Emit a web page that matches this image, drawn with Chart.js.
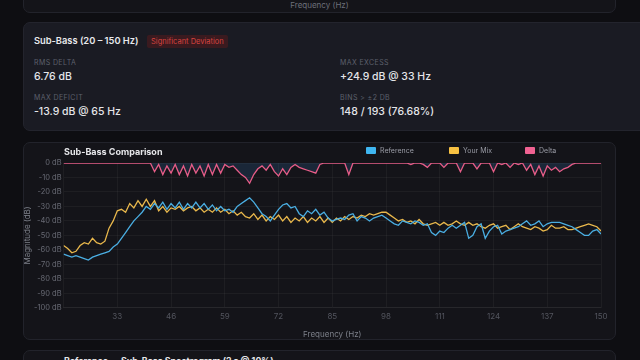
<!DOCTYPE html>
<html>
<head>
<meta charset="utf-8">
<script src="https://cdn.jsdelivr.net/npm/chart.js@4.4.1/dist/chart.umd.min.js"></script>
<style>
  html, body { margin: 0; padding: 0; }
  body {
    width: 640px; height: 360px; overflow: hidden; position: relative;
    background: #0e0e12; font-family: Inter, "Noto Sans", sans-serif; color: #e5e6ea;
  }
  .card { position: absolute; box-sizing: border-box; border: 1px solid #22232b; border-radius: 7px; }
  #topCard { left: 23px; top: -30px; width: 593px; height: 43px; background: #141419; }
  #topCard span { position: absolute; left: 0; right: 0; bottom: 2px; text-align: center; font-size: 8px; color: #6d707a; }
  #stats { left: 23px; top: 22px; width: 640px; height: 109px; background: #1a1b23; border-color: #23242d; }
  #stats h3 { position: absolute; left: 10px; top: 12px; margin: 0; font-size: 9.3px; font-weight: 600; color: #e8e9ec; }
  .badge { position: absolute; left: 123px; top: 12px; height: 13px; line-height: 13px; padding: 0 4px;
    font-size: 7.5px; color: #d8443f; background: #3a1a1f; border-radius: 2px; }
  .lbl { position: absolute; font-size: 7px; letter-spacing: 0.4px; color: #5d606c; text-transform: uppercase; }
  .val { position: absolute; font-size: 10.5px; font-weight: 500; color: #e4e5e9; }
  #chartCard { left: 23px; top: 142px; width: 593px; height: 198px; background: #141419; }
  #wrap { position: absolute; left: 0; top: 0; width: 591px; height: 196px; }
  #chartTitle { position: absolute; left: 40px; top: 3px; font-size: 9px; font-weight: 700; color: #e6e7ea; }
  #legend { position: absolute; left: 342px; top: 3px; font-size: 7px; color: #9a9ca6; white-space: nowrap; }
  #legend .item { position: absolute; top: 0; }
  #legend i { display: inline-block; width: 10px; height: 7px; border-radius: 1px; margin-right: 4px; vertical-align: -1px; }
  #bottomCard { left: 23px; top: 350px; width: 593px; height: 40px; background: #141419; }
  #bottomCard span { position: absolute; left: 40px; top: 4px; font-size: 8.8px; font-weight: 700; color: #e6e7ea; }
</style>
</head>
<body>

<div class="card" id="topCard"><span>Frequency (Hz)</span></div>

<div class="card" id="stats">
  <h3>Sub-Bass (20 – 150 Hz)</h3>
  <div class="badge">Significant Deviation</div>
  <div class="lbl" style="left:10px;top:35px">RMS Delta</div>
  <div class="val" style="left:10px;top:47px">6.76 dB</div>
  <div class="lbl" style="left:10px;top:70px">Max Deficit</div>
  <div class="val" style="left:10px;top:82px">-13.9 dB @ 65 Hz</div>
  <div class="lbl" style="left:316px;top:35px">Max Excess</div>
  <div class="val" style="left:316px;top:47px">+24.9 dB @ 33 Hz</div>
  <div class="lbl" style="left:316px;top:70px">Bins &gt; ±2 dB</div>
  <div class="val" style="left:316px;top:82px">148 / 193 (76.68%)</div>
</div>

<div class="card" id="chartCard">
  <div id="wrap"><canvas id="chart"></canvas></div>
  <div id="chartTitle">Sub-Bass Comparison</div>
  <div id="legend"></div>
</div>

<div class="card" id="bottomCard"><span>Reference — Sub-Bass Spectrogram (2 s @ 10%)</span></div>

<script>
// frecuencias (Hz), una por bin
const frecuencias = [
  20,21,22,23,24,25,26,27,28,29,
  30,31,32,33,34,35,36,37,38,39,
  40,41,42,43,44,45,46,47,48,49,
  50,51,52,53,54,55,56,57,58,59,
  60,61,62,63,64,65,66,67,68,69,
  70,71,72,73,74,75,76,77,78,79,
  80,81,82,83,84,85,86,87,88,89,
  90,91,92,93,94,95,96,97,98,99,
  100,101,102,103,104,105,106,107,108,109,
  110,111,112,113,114,115,116,117,118,119,
  120,121,122,123,124,125,126,127,128,129,
  130,131,132,133,134,135,136,137,138,139,
  140,141,142,143,144,145,146,147,148,149,
  150
];

// referencia (dB)
const referencia = [
  -63,-64,-65,-64,-65,-66,-67,-65,-64,-63,
  -62,-61,-58,-56,-52,-48,-44,-40,-37,-34,
  -30,-32,-28,-31,-27,-32,-28,-31,-27,-32,
  -28,-31,-27,-31,-28,-32,-29,-33,-30,-33,
  -32,-34,-30,-28,-26,-24,-27,-31,-35,-37,
  -40,-36,-32,-29,-28,-31,-30,-35,-37,-33,
  -35,-32,-36,-34,-38,-40,-39,-38,-39,-36,
  -35,-40,-37,-38,-40,-38,-37,-36,-38,-40,
  -42,-43,-40,-41,-42,-40,-41,-43,-42,-48,
  -50,-47,-48,-45,-43,-45,-43,-41,-52,-50,
  -44,-42,-52,-47,-44,-43,-49,-47,-46,-45,
  -44,-42,-40,-43,-42,-40,-44,-42,-41,-41,
  -41,-42,-43,-44,-46,-48,-50,-50,-47,-46,
  -49
];

// tu mezcla (dB)
const tuMezcla = [
  -57,-59,-62,-61,-57,-55,-56,-52,-55,-56,
  -54,-45,-40,-33,-32,-34,-28,-31,-26,-30,
  -25,-30,-26,-33,-30,-34,-31,-32,-30,-33,
  -31,-30,-33,-31,-34,-32,-34,-31,-34,-32,
  -35,-33,-36,-34,-37,-38,-35,-39,-36,-40,
  -37,-39,-36,-40,-37,-41,-38,-40,-37,-41,
  -38,-40,-37,-41,-38,-41,-38,-40,-37,-39,
  -37,-38,-36,-37,-35,-36,-35,-34,-34,-36,
  -38,-40,-39,-41,-40,-42,-39,-42,-43,-42,
  -41,-43,-41,-43,-42,-40,-42,-43,-41,-43,
  -42,-44,-45,-43,-42,-45,-44,-43,-46,-44,
  -42,-44,-45,-46,-44,-45,-47,-46,-43,-45,
  -45,-44,-46,-46,-45,-44,-43,-42,-43,-44,
  -47
];

// delta (dB), recortado en 0 como en la imagen
const delta = [
  0,0,0,0,0,0,0,0,0,0,
  0,0,0,0,0,0,0,0,0,0,
  0,0,-6,-1,-8,-2,-7,-1,-8,-2,
  -9,-1,-7,-2,-9,-1,-8,-1,-7,-1,
  -3,-2,-5,-8,-10,-14,-8,-4,-2,-5,
  -1,-6,-9,-4,-8,-3,-1,-3,-4,-5,
  -6,-7,-1,0,0,0,0,0,0,-8,
  0,0,0,0,0,0,0,0,0,0,
  0,0,0,0,-1,0,0,-1,-3,0,
  0,0,-3,0,0,0,-6,0,0,0,
  -4,0,0,0,-6,0,-1,0,-3,0,
  -1,0,-5,-1,-8,-2,-9,-2,-5,-3,
  -6,-4,-3,-1,0,0,0,0,0,0,
  0
];

// ticks del eje x
const ticksX = [33, 46, 59, 72, 85, 98, 111, 124, 137, 150];

const puntos = (serie) => serie.map((v, i) => ({ x: frecuencias[i], y: v }));

const colorGrid = 'rgba(255,255,255,0.045)';
const fuenteEje = { family: 'Inter', size: 8 };
const fuenteTicksY = { family: 'Inter', size: 7.5 };
const fuenteTitulo = { family: 'Inter', size: 8, lineHeight: 1 };

const ctx = document.getElementById('chart');
const chart = new Chart(ctx, {
  type: 'line',
  data: {
    datasets: [
      { label: 'Reference', data: puntos(referencia), borderColor: '#4aaee2', backgroundColor: '#3fb6f0', borderWidth: 1.3, pointRadius: 0, tension: 0 },
      { label: 'Your Mix', data: puntos(tuMezcla), borderColor: '#e9b84c', backgroundColor: '#f7c142', borderWidth: 1.3, pointRadius: 0, tension: 0 },
      { label: 'Delta', data: puntos(delta), borderColor: '#e75d88', backgroundColor: 'rgba(52,110,170,0.22)', borderWidth: 1.3, pointRadius: 0, tension: 0, fill: 'origin' }
    ]
  },
  options: {
    responsive: true,
    maintainAspectRatio: false,
    animation: false,
    layout: { padding: { top: 20, right: 14, bottom: 0, left: 0 } },
    plugins: {
      legend: { display: false },
      tooltip: { enabled: false }
    },
    scales: {
      x: {
        type: 'linear', min: 20, max: 150,
        afterBuildTicks: (scale) => { scale.ticks = ticksX.map(v => ({ value: v })); },
        ticks: { color: '#53555e', font: fuenteEje, padding: 4, maxRotation: 0 },
        grid: { color: colorGrid, drawTicks: false },
        border: { color: colorGrid },
        title: { display: true, text: 'Frequency (Hz)', color: '#7d808a', font: fuenteEje, padding: { top: 4, bottom: 0 } }
      },
      y: {
        min: -100, max: 0,
        ticks: { stepSize: 10, color: '#686a74', font: fuenteTicksY, padding: 2, callback: (v) => v + ' dB' },
        grid: { color: colorGrid, drawTicks: false },
        border: { color: colorGrid },
        title: { display: true, text: 'Magnitude (dB)', color: '#7d808a', font: fuenteTitulo, padding: { top: 0, bottom: 0 } }
      }
    }
  }
});

// leyenda en html, con los colores de los datasets
const leyenda = document.getElementById('legend');
const posiciones = [0, 83, 159];
chart.data.datasets.forEach((ds, i) => {
  const color = i === 2 ? '#f06292' : ds.backgroundColor;
  const item = document.createElement('span');
  item.className = 'item';
  item.style.left = posiciones[i] + 'px';
  item.innerHTML = '<i style="background:' + color + '"></i>' + ds.label;
  leyenda.appendChild(item);
});
</script>
</body>
</html>
